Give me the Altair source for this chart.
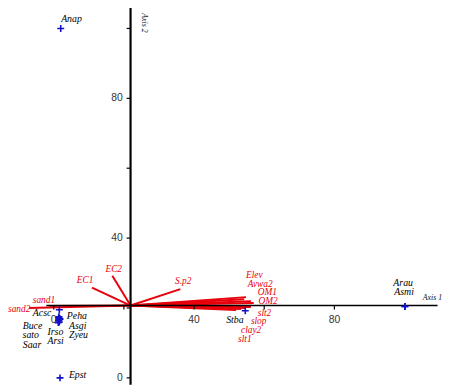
import altair as alt
import pandas as pd

# ---- data ----
species = ["Anap", "Epst", "Acsc", "Peha", "Asgi", "Zyeu", "Irso", "Arsi",
           "Buce", "sato", "Saar", "Stba", "Arau", "Asmi"]
sp_x = [2.0, 1.8, 1.6, 1.5, 1.7, 1.4, 1.6, 1.3, 1.8, 1.5, 1.4, 54.6, 100.1, 100.1]
sp_y = [100.0, 0.0, 19.5, 17.5, 17.0, 16.4, 16.0, 15.8, 16.8, 16.6, 17.2, 19.2, 20.4, 20.4]

env = ["sand1", "sand2", "EC1", "EC2", "S.p2", "Elev", "Avwa2", "OM1", "OM2",
       "slt2", "slop", "clay2", "slt1"]
env_x = [-1.2, -7.0, 10.9, 16.7, 36.1, 54.8, 54.3, 56.2, 57.0, 56.2, 54.8, 53.4, 52.0]
env_y = [20.6, 20.0, 25.8, 29.2, 25.4, 23.1, 22.5, 21.9, 21.4, 20.3, 20.0, 19.7, 19.4]

origin_x, origin_y = 21.9, 20.7          # where the two axes cross
x_ticks = [0, 20, 40, 60, 80, 100]
y_ticks = [0, 20, 40, 60, 80, 100]
tick_labels = [0, 40, 80]

# ---- label offsets (pixels, styling only) ----
sp_dx = [0.4, 9, -27, 8, 9.4, 10.5, -12, -11, -38, -37, -36.5, -19.4, -11.8, -10.8]
sp_dy = [-9.5, -3, 3.3, -1, 7.4, 14.3, 10, 19, 7, 15, 28, 9.3, -23.5, -14.5]
env_dx = [-17, -21.5, -15.4, -7, -5.4, 0, 3.6, 7, 5, 7, 5, 0, 2]
env_dy = [-6, 1.5, -7.3, -7, -8.7, -22, -15, -9, -2, 6, 13, 21, 29]

XD = [-13.03, 117.51]
YD = [-1.97, 104.92]
W, H = 466, 380
kx = W / (XD[1] - XD[0])
ky = H / (YD[1] - YD[0])

sp = pd.DataFrame({"name": species, "x": sp_x, "y": sp_y})
sp["lx"] = sp["x"] + pd.Series(sp_dx) / kx
sp["ly"] = sp["y"] - pd.Series(sp_dy) / ky

ev = pd.DataFrame({"name": env, "x": env_x, "y": env_y})
ev["x0"] = origin_x
ev["y0"] = origin_y
ev["lx"] = ev["x"] + pd.Series(env_dx) / kx
ev["ly"] = ev["y"] - pd.Series(env_dy) / ky

xt = pd.DataFrame({"v": x_ticks, "a": origin_y})
yt = pd.DataFrame({"v": y_ticks, "a": origin_x})
xl = pd.DataFrame({"v": tick_labels, "a": origin_y})
yl = pd.DataFrame({"v": tick_labels, "a": origin_x})

xs = alt.Scale(domain=XD, nice=False, zero=False)
ys = alt.Scale(domain=YD, nice=False, zero=False)

def X(f):
    return alt.X(f, type="quantitative", scale=xs, axis=None)

def Y(f):
    return alt.Y(f, type="quantitative", scale=ys, axis=None)

axes_df = pd.DataFrame({"x": [-2.1, origin_x], "x2": [109.4, origin_x],
                        "y": [origin_y, 107.0], "y2": [origin_y, -2.0],
                        "w": [1.5, 2.2]})
axes = alt.Chart(axes_df).mark_rule(color="black").encode(
    x=X("x"), x2="x2", y=Y("y"), y2="y2",
    strokeWidth=alt.StrokeWidth("w:Q", scale=None))

xtick = alt.Chart(xt).mark_rule(color="black", strokeWidth=1.2, y2Offset=4).encode(
    x=X("v"), y=Y("a"), y2="a")
ytick = alt.Chart(yt).mark_rule(color="black", strokeWidth=1.2, x2Offset=-4).encode(
    y=Y("v"), x=X("a"), x2="a")
xlab = alt.Chart(xl).mark_text(font="Liberation Sans", fontSize=10.5, color="#333",
                               dy=15, baseline="middle").encode(
    x=X("v"), y=Y("a"), text="v:Q")
ylab = alt.Chart(yl).mark_text(font="Liberation Sans", fontSize=10.5, color="#333",
                               dx=-8, align="right", baseline="middle").encode(
    y=Y("v"), x=X("a"), text="v:Q")

arrows = alt.Chart(ev).mark_rule(color="#e8000b", strokeWidth=2).encode(
    x=X("x0"), y=Y("y0"), x2="x", y2="y")
env_text = alt.Chart(ev).mark_text(font="Liberation Serif", fontStyle="italic",
                                   fontSize=9.5, color="#e8000b", align="left",
                                   baseline="middle").encode(
    x=X("lx"), y=Y("ly"), text="name:N")

pts = alt.Chart(sp).mark_point(shape="M-1,0L1,0M0,-1L0,1", size=50, filled=False,
                               color="#1010c8", strokeWidth=1.6, opacity=1).encode(
    x=X("x"), y=Y("y"))
sp_text = alt.Chart(sp).mark_text(font="Liberation Serif", fontStyle="italic",
                                  fontSize=10, color="#000", align="left",
                                  baseline="middle").encode(
    x=X("lx"), y=Y("ly"), text="name:N")

titles_df = pd.DataFrame({"t": ["Axis 1"], "x": [105.2], "y": [22.8]})
ax1 = alt.Chart(titles_df).mark_text(font="Liberation Serif", fontStyle="italic",
                                     fontSize=8, color="#111", align="left",
                                     baseline="middle").encode(
    x=X("x"), y=Y("y"), text="t:N")
ax2_df = pd.DataFrame({"t": ["Axis 2"], "x": [origin_x], "y": [104.9]})
ax2 = alt.Chart(ax2_df).mark_text(font="Liberation Serif", fontStyle="italic",
                                  fontSize=8, color="#111", angle=90, align="left",
                                  baseline="middle", dx=2, dy=-14).encode(
    x=X("x"), y=Y("y"), text="t:N")

chart = alt.layer(arrows, axes, xtick, ytick, xlab, ylab, pts, sp_text, env_text,
                  ax1, ax2).properties(
    width=W, height=H, padding=0,
    autosize=alt.AutoSizeParams(type="none"),
).configure_view(stroke=None)

chart.save("out.html", embed_options={"renderer": "svg", "actions": False})
